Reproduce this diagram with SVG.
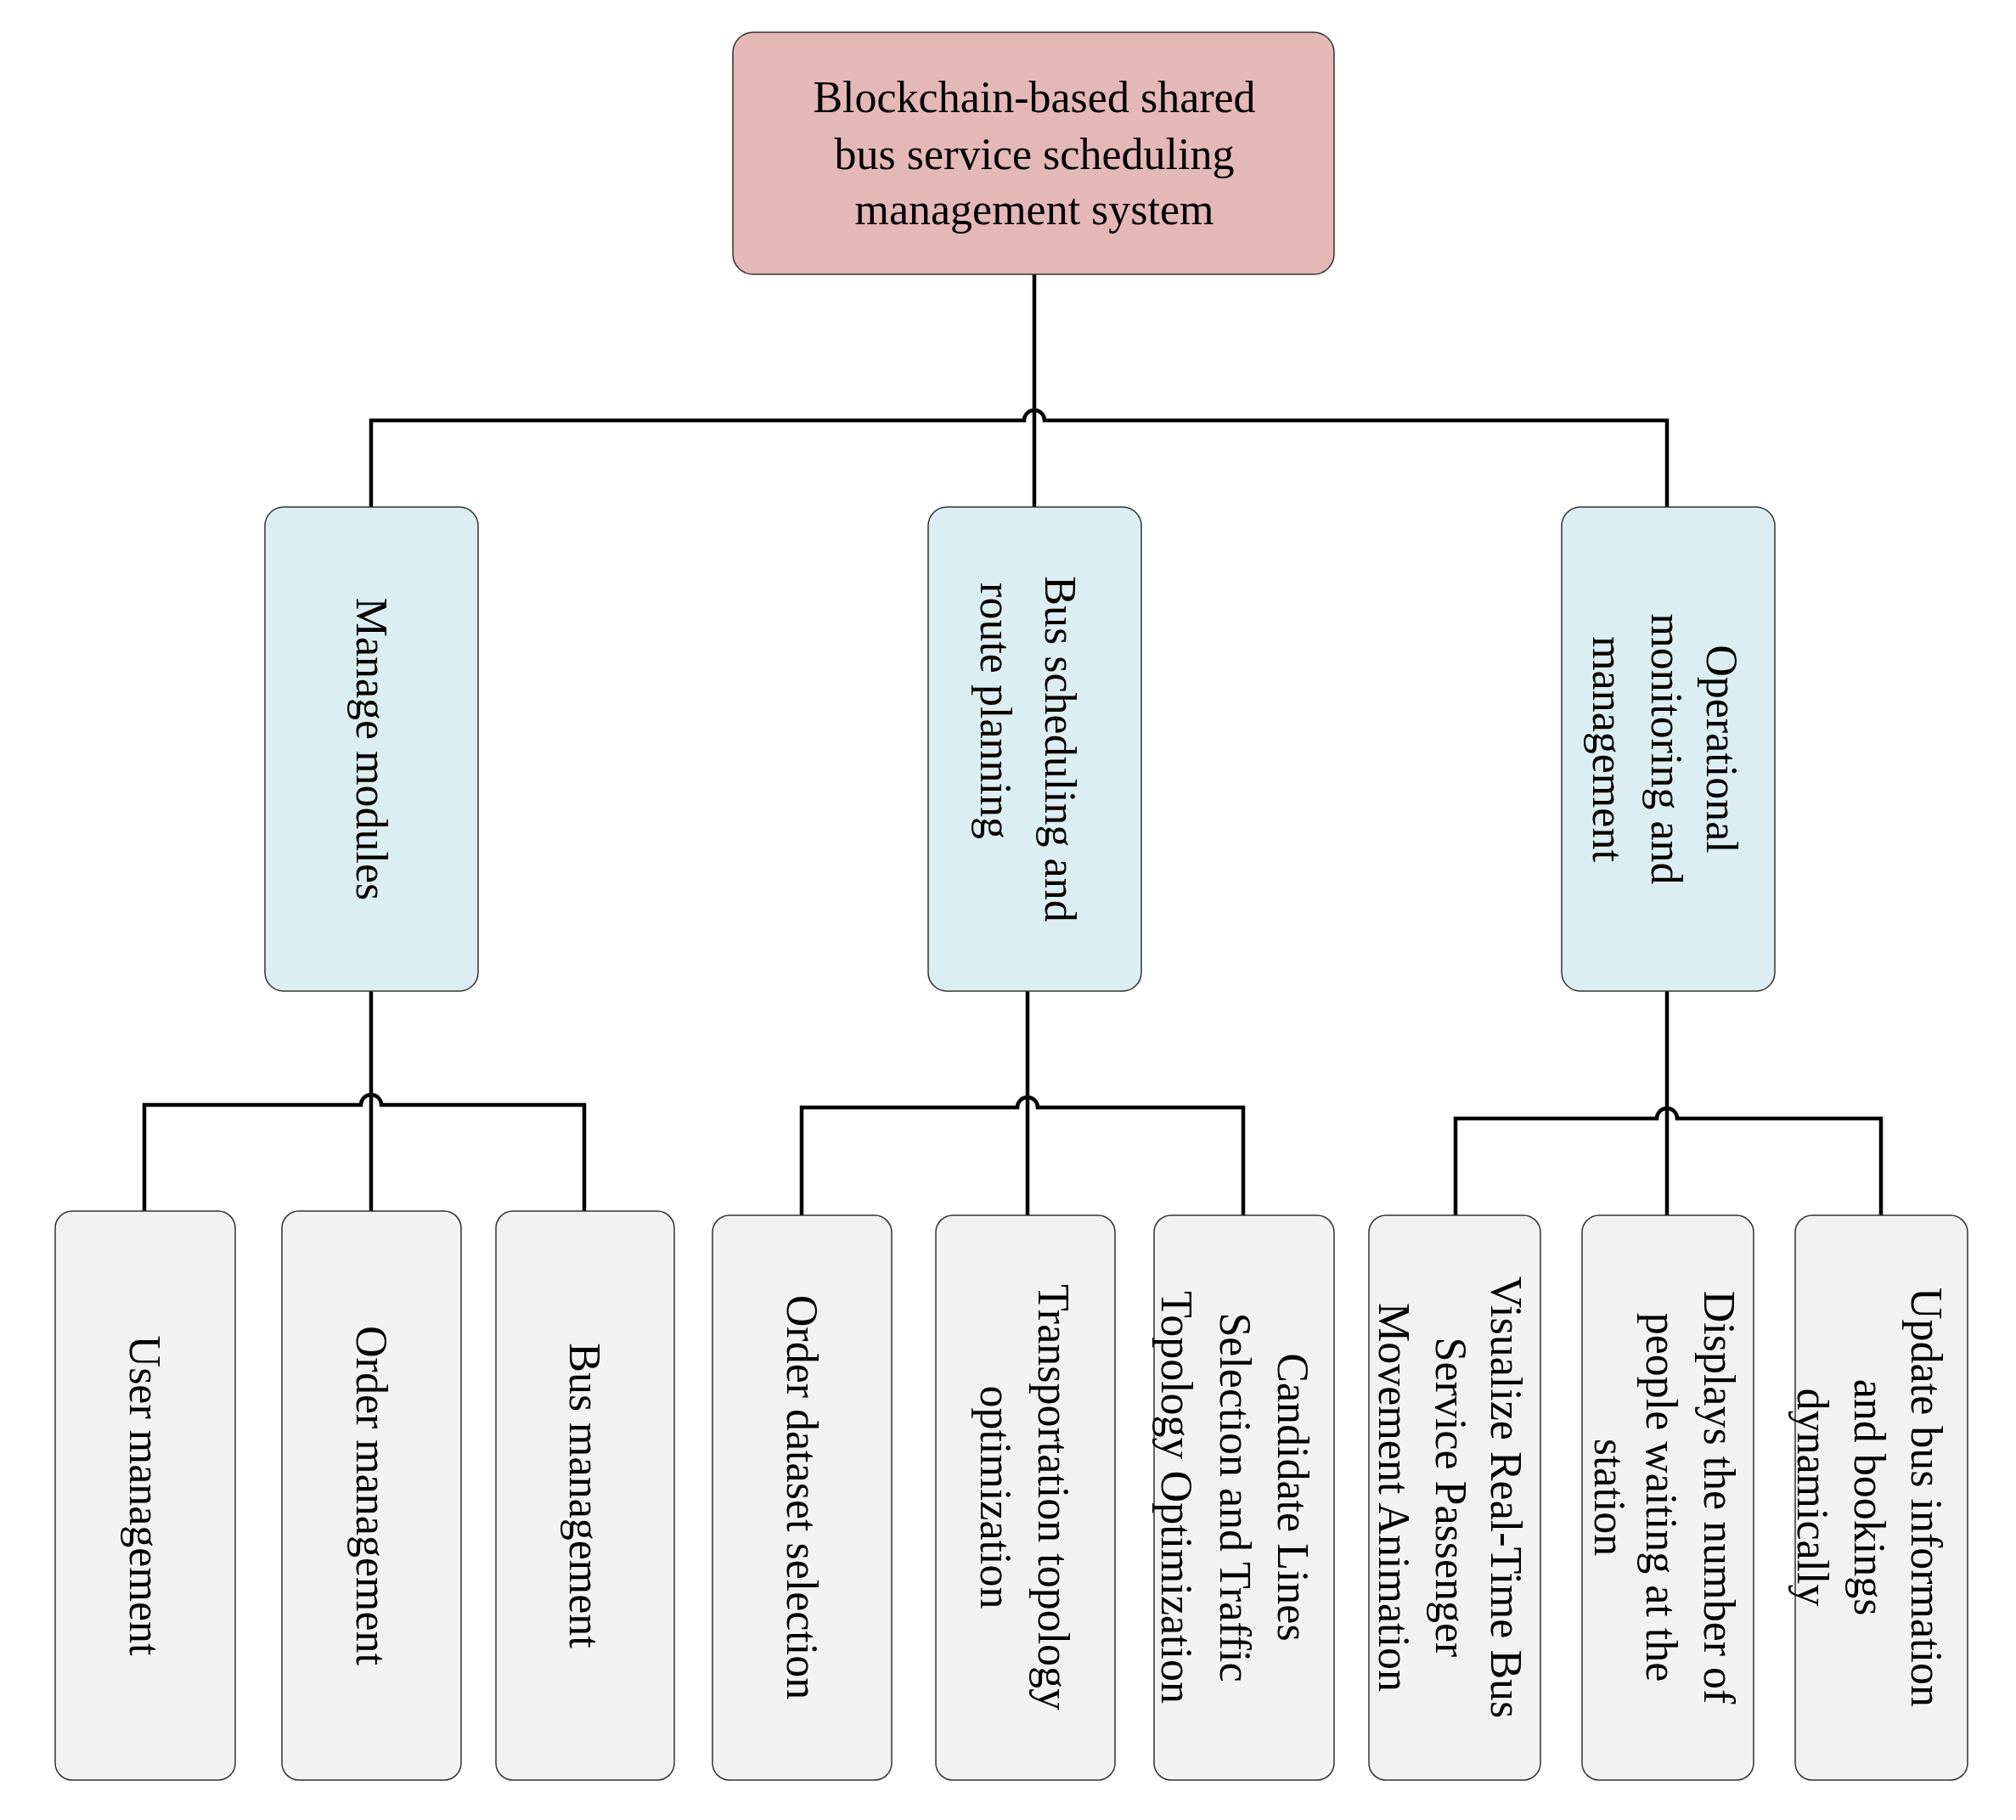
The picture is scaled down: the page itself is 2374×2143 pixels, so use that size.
<svg xmlns="http://www.w3.org/2000/svg" width="2374" height="2143" viewBox="0 0 2374 2143">
<style>
.n rect{stroke:#333;stroke-width:1.5}
.r rect{fill:#e3b8b6}.m rect{fill:#dcedf3}.l rect{fill:#f2f2f2}
text{font-family:"Liberation Serif","DejaVu Serif",serif;font-size:52px;fill:#000;text-anchor:middle;dominant-baseline:central}
#edges path{fill:none;stroke:#000;stroke-width:4.5}
</style>
<rect width="2374" height="2143" fill="#fff"/>
<g id="edges">
<path d="M1218 323 V597"/>
<path d="M437 597 V495 H1206 A12 12 0 0 1 1230 495 H1963 V597"/>
<path d="M437 1167 V1426"/>
<path d="M170 1426 V1301 H425 A12 12 0 0 1 449 1301 H688 V1426"/>
<path d="M1210 1167 V1431"/>
<path d="M944 1431 V1304 H1198 A12 12 0 0 1 1222 1304 H1464 V1431"/>
<path d="M1963 1167 V1431"/>
<path d="M1714 1431 V1317 H1951 A12 12 0 0 1 1975 1317 H2215 V1431"/>
</g>
<g id="root" class="n r"><rect x="863" y="38" width="708" height="285" rx="24"/>
<text x="1218" y="114">Blockchain-based shared</text><text x="1218" y="181">bus service scheduling</text><text x="1218" y="246">management system</text></g>
<g id="manage" class="n m"><rect x="312" y="597" width="251" height="570" rx="22"/>
<text transform="translate(437,882) rotate(90)">Manage modules</text></g>
<g id="busSched" class="n m"><rect x="1093" y="597" width="251" height="570" rx="22"/>
<text transform="translate(1248,882) rotate(90)">Bus scheduling and</text><text transform="translate(1172,837) rotate(90)">route planning</text></g>
<g id="ops" class="n m"><rect x="1839" y="597" width="251" height="570" rx="22"/>
<text transform="translate(2027,882) rotate(90)">Operational</text><text transform="translate(1962,882) rotate(90)">monitoring and</text><text transform="translate(1893,882) rotate(90)">management</text></g>
<g id="user" class="n l"><rect x="65" y="1426" width="212" height="670" rx="20"/>
<text transform="translate(170,1761) rotate(90)">User management</text></g>
<g id="order" class="n l"><rect x="332" y="1426" width="211" height="670" rx="20"/>
<text transform="translate(437,1761) rotate(90)">Order management</text></g>
<g id="bus" class="n l"><rect x="584" y="1426" width="210" height="670" rx="20"/>
<text transform="translate(688,1761) rotate(90)">Bus management</text></g>
<g id="dataset" class="n l"><rect x="839" y="1431" width="211" height="665" rx="20"/>
<text transform="translate(944,1763) rotate(90)">Order dataset selection</text></g>
<g id="topo" class="n l"><rect x="1102" y="1431" width="211" height="665" rx="20"/>
<text transform="translate(1240,1763) rotate(90)">Transportation topology</text><text transform="translate(1172,1763) rotate(90)">optimization</text></g>
<g id="cand" class="n l"><rect x="1359" y="1431" width="212" height="665" rx="20"/>
<text transform="translate(1522,1763) rotate(90)">Candidate Lines</text><text transform="translate(1454,1763) rotate(90)">Selection and Traffic</text><text transform="translate(1385,1763) rotate(90)">Topology Optimization</text></g>
<g id="visual" class="n l"><rect x="1612" y="1431" width="202" height="665" rx="20"/>
<text transform="translate(1773,1763) rotate(90)">Visualize Real-Time Bus</text><text transform="translate(1708,1763) rotate(90)">Service Passenger</text><text transform="translate(1641,1763) rotate(90)">Movement Animation</text></g>
<g id="displays" class="n l"><rect x="1863" y="1431" width="202" height="665" rx="20"/>
<text transform="translate(2024,1763) rotate(90)">Displays the number of</text><text transform="translate(1956,1763) rotate(90)">people waiting at the</text><text transform="translate(1895,1763) rotate(90)">station</text></g>
<g id="update" class="n l"><rect x="2114" y="1431" width="203" height="665" rx="20"/>
<text transform="translate(2268,1763) rotate(90)">Update bus information</text><text transform="translate(2201,1763) rotate(90)">and bookings</text><text transform="translate(2134,1763) rotate(90)">dynamically</text></g>
</svg>
